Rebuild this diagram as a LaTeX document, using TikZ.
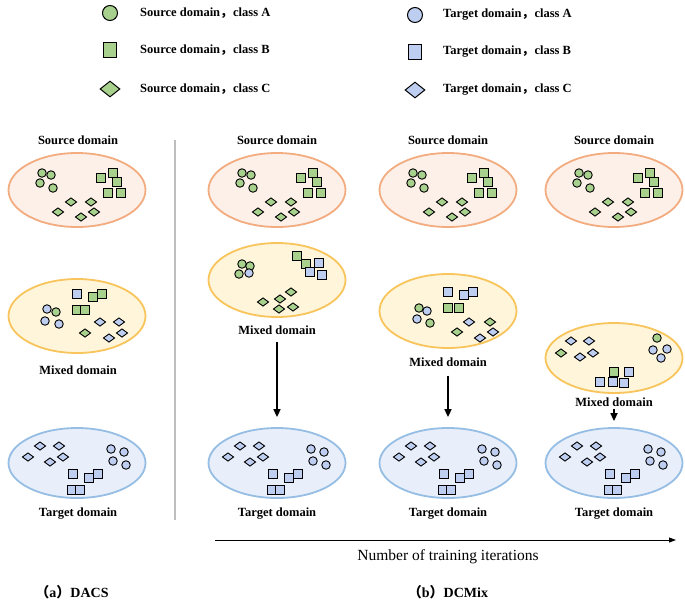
\documentclass[tikz,border=0pt]{standalone}
\usepackage{fontspec}
\setmainfont{Liberation Serif}
\newfontfamily\cjk{Noto Sans CJK SC}
\usetikzlibrary{shapes.geometric,arrows.meta}
\definecolor{gfill}{RGB}{169,209,142}
\definecolor{bfill}{RGB}{190,206,240}
\definecolor{srcfill}{RGB}{253,240,233}
\definecolor{srcdraw}{RGB}{242,172,128}
\definecolor{mixfill}{RGB}{255,245,218}
\definecolor{mixdraw}{RGB}{248,196,92}
\definecolor{tgtfill}{RGB}{232,239,250}
\definecolor{tgtdraw}{RGB}{150,190,228}
\definecolor{sepgray}{RGB}{190,190,190}
\newcommand\symset[3]{\foreach \x/\y in {#3} \node[#1,fill=#2] at (\x,\y) {};}
\newcommand\fwcomma{\makebox[13pt][l]{\cjk ，}}
\begin{document}
\begin{tikzpicture}[x=1pt,y=-1pt,
  circ/.style={circle,draw=black,line width=0.9pt,minimum size=8.5pt,inner sep=0pt},
  sq/.style={rectangle,draw=black,line width=0.9pt,minimum size=9pt,inner sep=0pt},
  dia/.style={diamond,draw=black,line width=0.9pt,minimum width=11.5pt,minimum height=8.5pt,inner sep=0pt},
  lcirc/.style={circle,draw=black,line width=1pt,minimum width=13pt,minimum height=15pt,inner sep=0pt},
  lsq/.style={rectangle,draw=black,line width=1pt,minimum width=13pt,minimum height=15pt,inner sep=0pt},
  ldia/.style={diamond,draw=black,line width=1pt,minimum width=20pt,minimum height=16pt,inner sep=0pt},
  srcell/.style={ellipse,draw=srcdraw,fill=srcfill,line width=1.8pt,minimum width=137pt,minimum height=74pt},
  mixell/.style={ellipse,draw=mixdraw,fill=mixfill,line width=1.8pt,minimum width=137pt,minimum height=74pt},
  tgtell/.style={ellipse,draw=tgtdraw,fill=tgtfill,line width=1.8pt,minimum width=137pt,minimum height=70pt},
  lbl/.style={font=\fontsize{12.5}{14}\selectfont\bfseries,inner sep=1pt},
  legtxt/.style={font=\fontsize{12.5}{14}\selectfont\bfseries,anchor=west,inner sep=0pt},
  flow/.style={line width=1.6pt,-{Triangle[length=8pt,width=7pt]}}
]
\useasboundingbox (0,0) rectangle (685,606);

% legend
\node[lcirc,fill=gfill] (l1) at (110,13) {};
\node[lsq,fill=gfill] (l2) at (110,50) {};
\node[ldia,fill=gfill] (l3) at (110,89) {};
\node[legtxt] (t1) at (140,13) {Source domain\fwcomma class A};
\node[legtxt] (t2) at (140,50) {Source domain\fwcomma class B};
\node[legtxt] (t3) at (140,89) {Source domain\fwcomma class C};
\node[lcirc,fill=bfill] (l4) at (415,15) {};
\node[lsq,fill=bfill] (l5) at (415,52) {};
\node[ldia,fill=bfill] (l6) at (415,90) {};
\node[legtxt] (t4) at (443,15) {Target domain\fwcomma class A};
\node[legtxt] (t5) at (443,52) {Target domain\fwcomma class B};
\node[legtxt] (t6) at (443,90) {Target domain\fwcomma class C};

% separator
\coordinate (sepA) at (175,140);
\coordinate (sepB) at (175,520);
\draw[sepgray,line width=1.2pt] (sepA) -- (sepB);

% source labels and ellipses
\foreach \i/\cx/\lx in {1/77/78,2/277/277,3/448/448,4/614/614}{
  \node[lbl] (slab\i) at (\lx,140) {Source domain};
  \node[srcell] (src\i) at (\cx,190) {};
  \begin{scope}[shift={(\cx,190)}]
    \symset{circ}{gfill}{-35/-17,-26/-15,-37/-7,-24/-2}
    \symset{sq}{gfill}{24/-12,36/-17,40/-8,31/3,44/3}
    \symset{dia}{gfill}{-6/12,14/12,-19/22,4/27,17/22}
  \end{scope}
}

% target ellipses
\foreach \i/\cx/\lx in {1/77/78,2/277/277,3/448/448,4/614/614}{
  \node[tgtell] (tgt\i) at (\cx,463) {};
  \node[lbl] (tlab\i) at (\lx,514) {Target domain};
  \begin{scope}[shift={(\cx,466)}]
    \symset{dia}{bfill}{-49/-9,-37/-20,-18/-20,-27/-4,-14/-9}
    \symset{circ}{bfill}{34/-17,47/-14,36/-5,49/-1}
    \symset{sq}{bfill}{-4/8,12/12,21/8,-5/24,3/24}
  \end{scope}
}

% mixed DACS
\node[mixell] (mix1) at (77,316) {};
\node[lbl] (mlab1) at (78,370) {Mixed domain};
\begin{scope}[shift={(77,316)}]
  \symset{sq}{bfill}{0/-22}
  \symset{sq}{gfill}{16/-19,25/-22,0/-6,8/-6}
  \symset{circ}{bfill}{-30/-7}
  \symset{circ}{gfill}{-21/-4}
  \symset{circ}{bfill}{-32/5,-18/8}
  \symset{dia}{bfill}{23/6,42/6}
  \symset{dia}{gfill}{8/17}
  \symset{dia}{bfill}{32/22,45/17}
\end{scope}

% mixed DCMix 1
\node[mixell] (mix2) at (277,280) {};
\node[lbl] (mlab2) at (277,330) {Mixed domain};
\begin{scope}[shift={(277,280)}]
  \symset{circ}{gfill}{-35/-16,-27/-14,-38/-6}
  \symset{circ}{bfill}{-28/-7}
  \symset{sq}{gfill}{20/-24,29/-16}
  \symset{sq}{bfill}{42/-17,33/-8,45/-5}
  \symset{dia}{gfill}{14/12,-14/22,3/19,2/29,16/27}
\end{scope}

% mixed DCMix 2
\node[mixell] (mix3) at (448,311) {};
\node[lbl] (mlab3) at (448,362) {Mixed domain};
\begin{scope}[shift={(448,314)}]
  \symset{sq}{bfill}{0/-22}
  \symset{sq}{bfill}{16/-19,25/-22}
  \symset{sq}{gfill}{0/-6,11/-6}
  \symset{circ}{gfill}{-29/-6}
  \symset{circ}{bfill}{-21/-3,-31/5}
  \symset{circ}{gfill}{-18/9}
  \symset{dia}{bfill}{21/8}
  \symset{dia}{gfill}{42/8,9/18}
  \symset{dia}{bfill}{32/24,45/18}
\end{scope}

% mixed DCMix 3
\node[mixell,minimum height=70pt] (mix4) at (614,358) {};
\node[lbl] (mlab4) at (614,402) {Mixed domain};
\begin{scope}[shift={(614,358)}]
  \symset{dia}{bfill}{-43/-17,-25/-17}
  \symset{dia}{gfill}{-53/-5}
  \symset{dia}{bfill}{-34/-1,-21/-5}
  \symset{circ}{gfill}{43/-20}
  \symset{circ}{bfill}{39/-8,53/-9,47/0}
  \symset{sq}{gfill}{0/14}
  \symset{sq}{bfill}{15/14,-14/24,-1/24,10/25}
\end{scope}

% flow arrows
\draw[flow,shorten <=6pt,shorten >=10pt] (mlab2) -- (mlab2 |- tgt2.north);
\draw[flow,shorten <=8pt,shorten >=10pt] (mlab3) -- (mlab3 |- tgt3.north);
\draw[flow,shorten <=1pt,shorten >=6pt] (mlab4) -- (mlab4 |- tgt4.north);

% iterations axis
\coordinate (axA) at (215,540);
\coordinate (axB) at (676,540);
\draw[line width=0.9pt,-{Triangle[length=7pt,width=5pt]}] (axA) -- (axB);
\node[font=\fontsize{15.5}{17}\selectfont] (axlab) at (448,557) {Number of training iterations};

% captions
\node[font=\fontsize{14}{16}\selectfont\bfseries] (capa) at (72,592) {{\cjk （}a{\cjk ）}DACS};
\node[font=\fontsize{14}{16}\selectfont\bfseries] (capb) at (448,592) {{\cjk （}b{\cjk ）}DCMix};
\end{tikzpicture}
\end{document}
